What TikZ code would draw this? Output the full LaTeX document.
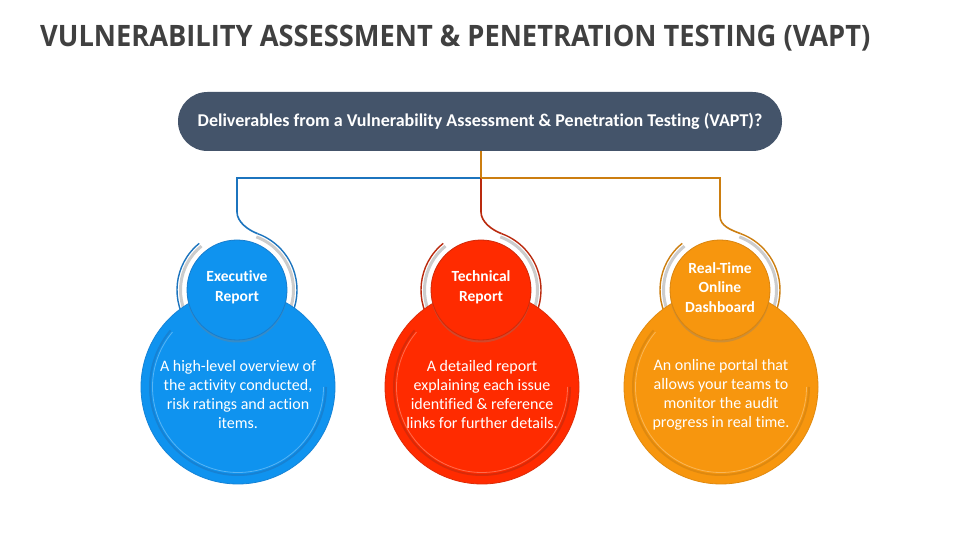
\documentclass[tikz,border=0pt]{standalone}
\usepackage{fontspec}
\setmainfont{Carlito}[Ligatures=NoCommon]
\newfontfamily\titlefont{Open Sans}
\usetikzlibrary{calc,shadows}
\definecolor{vblue}{HTML}{0F93EF}
\definecolor{vbluedk}{HTML}{1C74BE}
\definecolor{vred}{HTML}{FF2B00}
\definecolor{vreddk}{HTML}{BA2A0E}
\definecolor{vorange}{HTML}{F7960E}
\definecolor{vorangedk}{HTML}{CC7E10}
\definecolor{hdrc}{HTML}{44546A}
\definecolor{titlec}{HTML}{404040}
\tikzset{
  hdrbox/.style={fill=hdrc, rounded corners=29.5pt, minimum width=604pt, minimum height=59pt, inner sep=0pt, text=white, font=\bfseries\fontsize{18}{21}\selectfont},
  bigc/.style={circle, minimum size=194pt, inner sep=0pt, line width=0.8pt},
  smallc/.style={circle, minimum size=100pt, inner sep=0pt, line width=0.8pt, drop shadow={opacity=0.35, shadow xshift=0pt, shadow yshift=-2.5pt}},
  lbl/.style={text=white, align=center, font=\bfseries\fontsize{15.5}{19.5}\selectfont},
  bodytxt/.style={text=white, align=center, font=\fontsize{16}{19}\selectfont},
  conn/.style={line width=1.6pt},
}
\newcommand{\vunit}[7]{%
  % #1 id, #2 x, #3 main, #4 dark, #5 label, #6 body, #7 connector bend y
  \draw[line width=3pt, black!20] (#2,250) ++(129:56.5) arc[start angle=129, end angle=430, radius=56.5];
  \draw[line width=1.4pt, #4] (#2,250) ++(129:60) arc[start angle=129, end angle=430, radius=60];
  \node[bigc, fill=#3, draw=#4!50!#3] (b#1) at (#2+1,153) {};
  \draw[line width=2pt, #4!55!#3] ($(b#1.center)+(140:88)$) arc[start angle=140, end angle=360, radius=88];
  \draw[line width=0.8pt, white!30!#3] ($(b#1.center)+(140:85.5)$) arc[start angle=140, end angle=360, radius=85.5];
  \node[smallc, fill=#3, draw=#4!70!#3] (s#1) at (#2,250) {};
  \node[lbl] (l#1) at (#2,252.5) {#5};
  \node[bodytxt] (t#1) at (#2+1,145.5) {#6};
  \coordinate (k#1) at (#2,362);
  \coordinate (m#1) at (#2,#7);
  \coordinate (e#1) at ($(s#1.center)+(70:60)$);
  \draw[conn, #4] (m#1) .. controls ($(m#1)+(0,-10)$) and ($(e#1)+(-9.5,3.6)$) .. (e#1);
}
\begin{document}
\begin{tikzpicture}[x=1pt,y=1pt]
\useasboundingbox (0,0) rectangle (960,540);
\fill[white] (0,0) rectangle (960,540);
\node[anchor=base west, inner sep=0pt, text=titlec, font=\titlefont\bfseries\fontsize{29.5}{36}\selectfont] (title) at (40,493) {\scalebox{0.924}[1]{VULNERABILITY ASSESSMENT \& PENETRATION TESTING (VAPT)}};
\node[hdrbox] (hdr) at (480,418.5) {Deliverables from a Vulnerability Assessment \& Penetration Testing (VAPT)?};
\vunit{1}{237}{vblue}{vbluedk}{Executive\\Report}{A high-level overview of\\the activity conducted,\\risk ratings and action\\items.}{328}
\vunit{2}{481}{vred}{vreddk}{Technical\\Report}{A detailed report\\explaining each issue\\identified \& reference\\links for further details.}{328}
\vunit{3}{720}{vorange}{vorangedk}{Real-Time\\Online\\Dashboard}{An online portal that\\allows your teams to\\monitor the audit\\progress in real time.}{324}
\coordinate (j) at (481,362);
\draw[conn, vbluedk] (j) -- (k1) -- (m1);
\draw[conn, vreddk] (j) -- (m2);
\draw[conn, vorangedk] (j) -- (k3) -- (m3);
\draw[conn, vorangedk] (j |- hdr.south) -- (j);
\end{tikzpicture}
\end{document}
